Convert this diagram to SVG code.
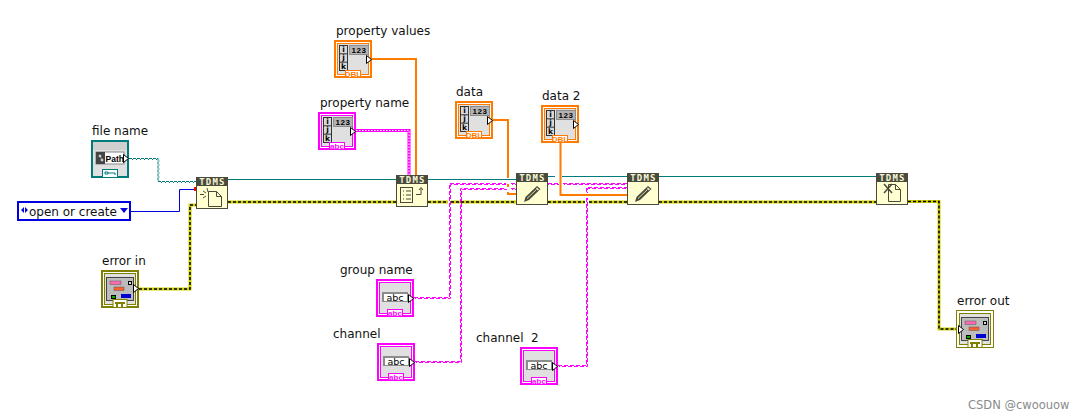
<svg xmlns="http://www.w3.org/2000/svg" width="1082" height="419" viewBox="0 0 1082 419">
<style>
.lbl{font:12px "DejaVu Sans",sans-serif;fill:#111}
.w{fill:none}
.err{stroke:#d0d000;stroke-width:3}
.errd{stroke:#000;stroke-width:1.500;stroke-dasharray:3 2}
.path{stroke:#007b7b;stroke-width:1;stroke-dasharray:3 1}
.path2{stroke:#007b7b;stroke-width:1;stroke-dasharray:1 3;stroke-dashoffset:2}
.teal{stroke:#007b7b;stroke-width:1}
.org{stroke:#ff7b00;stroke-width:2}
.blue{stroke:#0000e0;stroke-width:1}
.pk3{stroke:#ff00ff;stroke-width:3}
.pkd{stroke:#fff;stroke-width:1;stroke-dasharray:1.500 1.500}
.pk{stroke:#ff00ff;stroke-width:1;stroke-dasharray:4 2}
.pk2{stroke:#ff00ff;stroke-width:1;stroke-dasharray:4 2;stroke-dashoffset:3}
.tag{font:bold 8px "Liberation Sans",sans-serif;text-anchor:middle}
.idx{font:bold 7.500px "DejaVu Sans",sans-serif;text-anchor:middle;fill:#000}
.n123{font:bold 8px "Liberation Sans",sans-serif;text-anchor:middle;fill:#000;letter-spacing:.5px}
.abc{font:9.500px "DejaVu Sans",sans-serif;text-anchor:middle;fill:#000}
.tdms{font:bold 9px "DejaVu Sans Mono",monospace;fill:#f4f4d8;text-anchor:middle;letter-spacing:1.200px}
.org-c{color:#ff7b00}.pk-c{color:#ff00ff}
.ico{fill:none;stroke:#4a4a3a;stroke-width:1}
</style>
<defs>
<g id="frame">
<rect width="38" height="38" fill="currentColor"/>
<rect x="2" y="2" width="34" height="34" fill="#fff"/>
<rect x="3" y="3" width="32" height="32" fill="currentColor"/>
<rect x="4" y="4" width="30" height="30" fill="#e0e0e0"/>
</g>
<g id="tagbox"><rect x="11.500" y="30.500" width="15" height="7" fill="#fff" stroke="currentColor"/></g>
<path id="term" d="M32.500 15.500 L37.500 19.500 L32.500 23.500 Z" fill="#fff" stroke="#000"/>
<g id="array">
<use href="#frame"/>
<rect x="5.500" y="5.500" width="8" height="25" fill="#d8d8d8" stroke="#333"/>
<path d="M5.500 13.800H13.500M5.500 22.200H13.500" stroke="#333"/>
<rect x="15.500" y="5.500" width="19" height="9" fill="#b4b4b4" stroke="#8c8c8c"/>
<use href="#tagbox"/>
<use href="#term"/>
</g>
<g id="string">
<use href="#frame"/>
<rect x="6" y="13" width="26" height="10" fill="#8c8c8c"/>
<rect x="8" y="15" width="23" height="7" fill="#fff"/>
<use href="#tagbox"/>
<use href="#term"/>
</g>
<g id="errbody">
<rect x="5.500" y="7.500" width="27" height="23" fill="#bcbcbc" stroke="#444"/>
<rect x="9" y="11" width="11" height="3.500" fill="#ff69b4" stroke="#555" stroke-width=".5"/>
<rect x="13" y="17" width="10" height="3.500" fill="#ff6030" stroke="#555" stroke-width=".5"/>
<rect x="27.500" y="11.500" width="3" height="3" fill="#ddd" stroke="#000"/>
<rect x="10.500" y="25.500" width="4" height="3" fill="#00b000" stroke="#000"/>
<rect x="20" y="24" width="10" height="4" fill="#0000d0"/>
<rect x="12" y="29.500" width="14" height="8" fill="#fff" stroke="#808000"/>
<path d="M14 33H24M16 33V37M21 33V37" stroke="#808000" stroke-width="2" fill="none"/>
</g>
<g id="tdmsbase">
<rect x=".5" y=".5" width="31" height="31" fill="#ffffd2" stroke="#4a4a3a"/>
<rect x="0" y="0" width="32" height="9" fill="#4a4a3a"/>
</g>
<g id="pencil">
<path d="M8 29 L9.500 24 L21 13 L24.500 16 L13 27 Z" fill="#4a4a3a"/>
<path d="M20.500 15 L22.500 17" stroke="#ffffd2" stroke-width="1.200"/>
<path d="M11 25.500 L20.500 16.500" stroke="#ffffd2" stroke-width=".8"/>
</g>
</defs>
<rect width="1082" height="419" fill="#fff"/>
<g id="connectors">
<path class="w err" d="M139 289H190V205H196M228 202H448M451 202H516M548 202H585M589 202H627M659 202H876M908 201.500H939V329H957"/>
<path class="w errd" d="M139 289H190V205H196M228 202H448M451 202H516M548 202H585M589 202H627M659 202H876M908 201.500H939V329H957"/>
<path class="w path" d="M129 158.500H158V181.500H196"/>
<path class="w path2" transform="translate(1 1)" d="M129 158.500H158V181.500H195"/>
<path class="w teal" d="M228 179.500H396M428 179.500H516M548 176.500H555M562 176.500H627M659 176.500H876"/>
<path class="w blue" d="M131 211.500H179.500V189.500H196"/>
<rect x="194" y="187" width="3" height="4" fill="#f00"/>
<path class="w org" d="M372 59H416V175"/>
<path class="w org" d="M493 120H508V178M508 184V187M508 192V194H516"/>
<path class="w org" d="M560.500 143V195H627"/>
<path class="w pk3" d="M356 130.500H409V175"/>
<path class="w pkd" d="M356 130.500H409V175"/>
<g id="wire-group-name">
<path class="w pk" d="M414 297.500H449.500V183.500H506M511 183.500H516M548 183.500H558M563 183.500H627"/>
<path class="w pk2" transform="translate(1 1)" d="M414 297.500H449.500V183.500H506M511 183.500H515M547 183.500H558M563 183.500H626"/>
</g>
<g id="wire-channel">
<path class="w pk" d="M415 361.500H460.500V188.500H506M511 188.500H516"/>
<path class="w pk2" transform="translate(1 1)" d="M415 361.500H460.500V188.500H506M511 188.500H515"/>
</g>
<g id="wire-channel-2">
<path class="w pk" d="M558 365.500H586.500V197M586.500 192V187.500H627"/>
<path class="w pk2" transform="translate(1 1)" d="M558 365.500H586.500V197M586.500 192V187.500H626"/>
</g>
</g>
<g id="property-values" class="org-c">
<text class="lbl" x="336" y="35">property values</text>
<use href="#array" x="334" y="40"/>
<text class="idx" x="343.500" y="52">i</text><text class="idx" x="343.500" y="60">j</text><text class="idx" x="343.500" y="68.500">k</text>
<text class="n123" x="359" y="52.500">123</text>
<text class="tag" x="353" y="77" fill="#ff7b00">DBL</text>
</g>
<g id="property-name" class="pk-c">
<text class="lbl" x="320" y="107">property name</text>
<use href="#array" x="318" y="112"/>
<text class="idx" x="327.500" y="124">i</text><text class="idx" x="327.500" y="132">j</text><text class="idx" x="327.500" y="140.500">k</text>
<text class="n123" x="343" y="124.500">123</text>
<text class="tag" x="337" y="149" fill="#ff00ff">abc</text>
</g>
<g id="data" class="org-c">
<text class="lbl" x="456" y="96">data</text>
<use href="#array" x="455" y="101"/>
<text class="idx" x="464.500" y="113">i</text><text class="idx" x="464.500" y="121">j</text><text class="idx" x="464.500" y="129.500">k</text>
<text class="n123" x="480" y="113.500">123</text>
<text class="tag" x="474" y="138" fill="#ff7b00">DBL</text>
</g>
<g id="data-2" class="org-c">
<text class="lbl" x="542" y="100">data 2</text>
<use href="#array" x="541" y="105"/>
<text class="idx" x="550.500" y="117">i</text><text class="idx" x="550.500" y="125">j</text><text class="idx" x="550.500" y="133.500">k</text>
<text class="n123" x="566" y="117.500">123</text>
<text class="tag" x="560" y="142" fill="#ff7b00">DBL</text>
</g>
<g id="file-name" style="color:#007b7b">
<text class="lbl" x="92" y="135">file name</text>
<rect x="91" y="140" width="38" height="38" fill="#007b7b"/>
<rect x="93" y="142" width="34" height="34" fill="#e0e0e0"/>
<rect x="93" y="142" width="34" height="8" fill="#cfcfcf"/>
<rect x="96" y="152" width="28" height="12" fill="#fff" stroke="#888"/>
<rect x="96" y="152" width="9" height="12" fill="#444"/>
<path d="M99 155h2v2h-2zM101 159h2v2h-2zM100 157l2 2" fill="#ccc" stroke="#ccc" stroke-width=".5"/>
<text x="105.500" y="161.500" style="font:bold 8.500px 'Liberation Sans',sans-serif;fill:#000">Path</text>
<rect x="102.500" y="169.500" width="15" height="8" fill="#fff" stroke="#007b7b"/>
<path d="M105 172h3v2h-3zM108 173h7v2" fill="none" stroke="#007b7b"/>
<use href="#term" x="91" y="139"/>
</g>
<g id="open-or-create">
<rect x="18" y="202" width="112" height="18" fill="#fff" stroke="#0000e0" stroke-width="2"/>
<path d="M24 207V213L21 210ZM25 207V213L28 210Z" fill="#0000e0"/>
<text x="29" y="216" style="font:12px 'DejaVu Sans',sans-serif;fill:#111">open or create</text>
<path d="M120 208H128L124 213Z" fill="#0000e0"/>
</g>
<g id="error-in">
<text class="lbl" x="102" y="265">error in</text>
<rect x="101" y="270" width="38" height="38" fill="#808000"/>
<rect x="103" y="272" width="34" height="34" fill="#fff"/>
<rect x="104" y="273" width="32" height="32" fill="#808000"/>
<rect x="105" y="274" width="30" height="30" fill="#e0e0e0"/>
<use href="#errbody" x="101" y="270"/>
<use href="#term" x="101" y="269"/>
</g>
<g id="group-name" class="pk-c">
<text class="lbl" x="340" y="274">group name</text>
<use href="#string" x="376" y="279"/>
<text class="abc" x="395" y="301">abc</text>
<text class="tag" x="395" y="316" fill="#ff00ff">abc</text>
</g>
<g id="channel" class="pk-c">
<text class="lbl" x="333" y="338">channel</text>
<use href="#string" x="377" y="343"/>
<text class="abc" x="396" y="365">abc</text>
<text class="tag" x="396" y="380" fill="#ff00ff">abc</text>
</g>
<g id="channel-2" class="pk-c">
<text class="lbl" x="476" y="342" xml:space="preserve">channel  2</text>
<use href="#string" x="520" y="347"/>
<text class="abc" x="539" y="369">abc</text>
<text class="tag" x="539" y="384" fill="#ff00ff">abc</text>
</g>
<g id="tdms-open">
<use href="#tdmsbase" x="196" y="177"/>
<text class="tdms" x="212.500" y="185">TDMS</text>
<path class="ico" d="M208.500 191.500H216.500L221.500 196.500V206.500H208.500ZM216.500 191.500V196.500H221.500"/>
<path d="M203 191l3 2M203 198l3-2M207 188l1 4M200 194.500h4" stroke="#4a4a3a" fill="none"/>
</g>
<g id="tdms-set-properties">
<use href="#tdmsbase" x="396" y="175"/>
<text class="tdms" x="412.500" y="183">TDMS</text>
<rect x="400.500" y="187.500" width="12" height="15" class="ico"/>
<path class="ico" d="M403 191h1M406 191h5M403 195h1M406 195h5M403 199h1M406 199h5"/>
<path class="ico" d="M416 194.500h5v-6M419 190l2-2.500 2 2.500"/>
</g>
<g id="tdms-write-1">
<use href="#tdmsbase" x="516" y="173"/>
<text class="tdms" x="532.500" y="181">TDMS</text>
<use href="#pencil" x="516" y="173"/>
</g>
<g id="tdms-write-2">
<use href="#tdmsbase" x="627" y="173"/>
<text class="tdms" x="643.500" y="181">TDMS</text>
<use href="#pencil" x="627" y="173"/>
</g>
<g id="tdms-close">
<use href="#tdmsbase" x="876" y="173"/>
<text class="tdms" x="892.500" y="181">TDMS</text>
<path class="ico" d="M888.500 184.500H895.500L900.500 189.500V201.500H888.500ZM895.500 184.500V189.500H900.500"/>
<path d="M884 184l8 9M892 184l-8 9" stroke="#4a4a3a" stroke-width="1.500" fill="none"/>
</g>
<g id="error-out">
<text class="lbl" x="957" y="305">error out</text>
<rect x="956.500" y="310.500" width="37" height="37" fill="#fff" stroke="#808000"/>
<rect x="959.500" y="313.500" width="31" height="31" fill="#e0e0e0" stroke="#808000"/>
<use href="#errbody" x="956" y="310"/>
<path d="M958.500 325.500L963.500 329.500L958.500 333.500Z" fill="#fff" stroke="#000"/>
</g>
<text x="968" y="409" style="font:11.500px 'DejaVu Sans',sans-serif;fill:#8a8a8a">CSDN @cwoouow</text>
</svg>
